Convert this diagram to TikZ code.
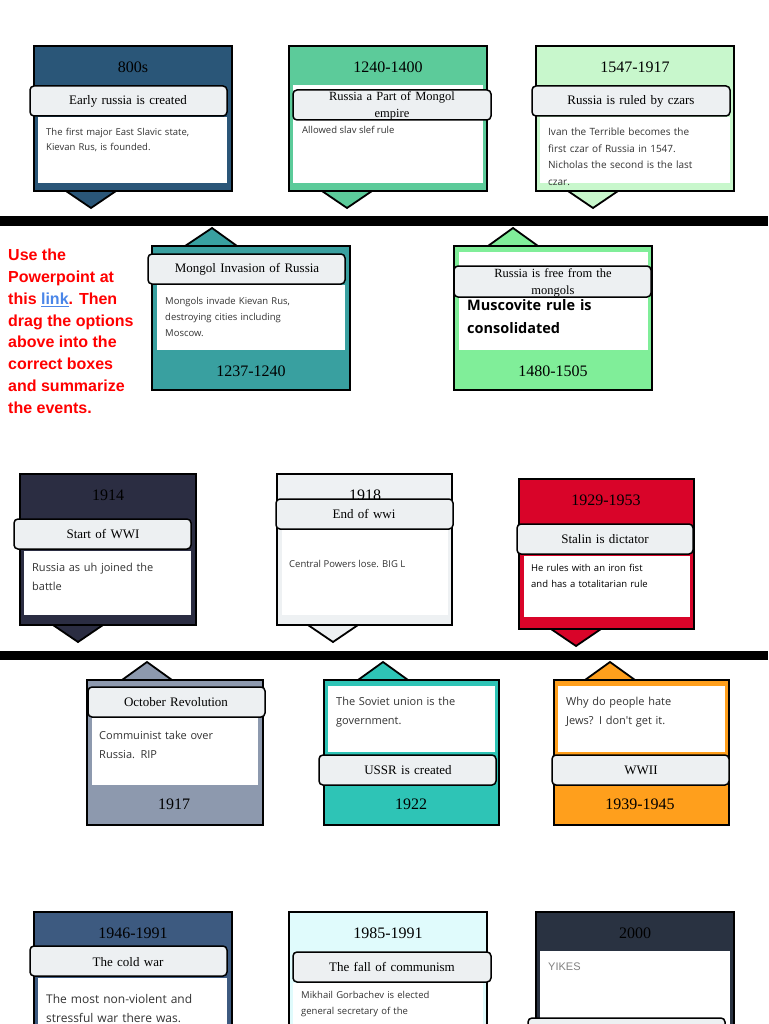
\documentclass[tikz,border=0pt]{standalone}
\usepackage{fontspec}
\setmainfont{Liberation Serif}
\newfontfamily\bodyf{Open Sans}
\newfontfamily\redf{Liberation Sans}
\definecolor{cA}{HTML}{2A5678}
\definecolor{cB}{HTML}{5CCB9A}
\definecolor{cC}{HTML}{C8F7CC}
\definecolor{cD}{HTML}{39A0A0}
\definecolor{cE}{HTML}{80EE99}
\definecolor{cF}{HTML}{2B2D42}
\definecolor{cG}{HTML}{EEF1F3}
\definecolor{cH}{HTML}{D90429}
\definecolor{cI}{HTML}{8D99AE}
\definecolor{cJ}{HTML}{2EC4B6}
\definecolor{cK}{HTML}{FF9F1C}
\definecolor{cL}{HTML}{3D5A80}
\definecolor{cM}{HTML}{E0FBFC}
\definecolor{cN}{HTML}{293241}
\definecolor{pillgray}{HTML}{EDF0F2}
\definecolor{txtgray}{HTML}{333333}
\tikzset{
 card/.style={draw=black, line width=1.8pt},
 pill/.style={draw=black, line width=1.5pt, fill=pillgray, rounded corners=4pt},
 bodyarea/.style={fill=white},
 date/.style={font=\fontsize{16}{18}\selectfont, text=black},
 plabel/.style={font=\fontsize{13}{14}\selectfont, text=black, align=center, text width=190pt},
 btext/.style={font=\bodyf\fontsize{10}{16}\selectfont, text=txtgray, anchor=north west, align=left, inner sep=0pt},
 ptr/.style={draw=black, line width=1.8pt, line join=miter},
 bar/.style={fill=black}
}
\begin{document}
\begin{tikzpicture}[x=1pt,y=-1pt]
\useasboundingbox (0,0) rectangle (768,1024);
\fill[white] (0,0) rectangle (768,1024);
% ---- top row
\filldraw[ptr,fill=cA] (66,191)--(91,208)--(116,191);
\filldraw[ptr,fill=cB] (322,191)--(347,208)--(372,191);
\filldraw[ptr,fill=cC] (568,191)--(593,208)--(618,191);
\filldraw[card,fill=cA] (34,46) rectangle (232,191);
\fill[bodyarea] (38,117) rectangle (227,183);
\filldraw[card,fill=cB] (289,46) rectangle (487,191);
\fill[bodyarea] (293,85) rectangle (483,183);
\filldraw[card,fill=cC] (536,46) rectangle (734,191);
\fill[bodyarea] (540,117) rectangle (730,183);
\node[date] (d1) at (133,67) {800s};
\node[date] (d2) at (388,67) {1240-1400};
\node[date] (d3) at (635,67) {1547-1917};
\draw[pill] (30,86) rectangle (227,116); \node[plabel] (p1) at (128,101) {Early russia is created};
\draw[pill] (293,90) rectangle (491,120); \node[plabel,font=\fontsize{12.5}{17}\selectfont] (p2) at (392,106) {Russia a Part of Mongol\\empire};
\draw[pill] (532,86) rectangle (730,116); \node[plabel] (p3) at (631,101) {Russia is ruled by czars};
\node[btext,text width=185pt,font=\bodyf\fontsize{9.5}{15}\selectfont] (b1) at (46,128) {The first major East Slavic state,\\Kievan Rus, is founded.};
\node[btext,font=\bodyf\fontsize{9.5}{15}\selectfont] (b2) at (302,126) {Allowed slav slef rule};
\node[btext,text width=185pt,font=\bodyf\fontsize{10}{16.5}\selectfont] (b3) at (548,128) {Ivan the Terrible becomes the\\first czar of Russia in 1547.\\Nicholas the second is the last\\czar.};
\fill[bar] (0,216) rectangle (768,226);
% ---- second row
\filldraw[ptr,fill=cD] (185,246)--(212,228)--(237,246);
\filldraw[ptr,fill=cE] (488,246)--(513,228)--(538,246);
\filldraw[card,fill=cD] (152,246) rectangle (350,390);
\fill[bodyarea] (157,285) rectangle (345,350);
\filldraw[card,fill=cE] (454,246) rectangle (652,390);
\fill[bodyarea] (459,252) rectangle (648,350);
\draw[pill] (148,254) rectangle (345,284); \node[plabel] (p4) at (247,269) {Mongol Invasion of Russia};
\draw[pill] (454,266) rectangle (651,297); \node[plabel,font=\fontsize{12.5}{17}\selectfont] (p5) at (553,283) {Russia is free from the\\mongols};
\node[btext,text width=185pt,font=\bodyf\fontsize{9.5}{16}\selectfont] (b4) at (165,297) {Mongols invade Kievan Rus,\\destroying cities including\\Moscow.};
\node[btext,text width=185pt,font=\bodyf\bfseries\fontsize{14.5}{23}\selectfont,text=black] (b5) at (467,299) {Muscovite rule is\\consolidated};
\node[date] (d4) at (251,371) {1237-1240};
\node[date] (d5) at (553,371) {1480-1505};
\node[font=\redf\bfseries\fontsize{16}{21.8}\selectfont, text=red, anchor=north west, align=left, inner sep=0pt] (instr) at (8,249)
 {Use the\\Powerpoint at\\this \textcolor[HTML]{4A86E8}{\underline{link}}. Then\\drag the options\\above into the\\correct boxes\\and summarize\\the events.};
% ---- third row
\filldraw[ptr,fill=cF] (53,625)--(78,642)--(103,625);
\filldraw[ptr,fill=cG] (308,625)--(333,642)--(358,625);
\filldraw[ptr,fill=cH] (551,629)--(576,646)--(601,629);
\filldraw[card,fill=cF] (20,474) rectangle (196,625);
\fill[bodyarea] (24,551) rectangle (191,615);
\filldraw[card,fill=cG] (277,474) rectangle (452,625);
\fill[bodyarea] (282,505) rectangle (448,615);
\filldraw[card,fill=cH] (519,479) rectangle (694,629);
\fill[bodyarea] (524,556) rectangle (690,617);
\node[date] (d6) at (108,495) {1914};
\node[date] (d7) at (365,495) {1918};
\node[date] (d8) at (606,500) {1929-1953};
\draw[pill] (14,519) rectangle (191,549); \node[plabel] (p6) at (103,534) {Start of WWI};
\draw[pill] (276,499) rectangle (453,529); \node[plabel] (p7) at (364,514) {End of wwi};
\draw[pill] (517,524) rectangle (693,554); \node[plabel] (p8) at (605,539) {Stalin is dictator};
\node[btext,text width=165pt,font=\bodyf\fontsize{11}{19}\selectfont] (b6) at (32,563) {Russia as uh joined the\\battle};
\node[btext,font=\bodyf\fontsize{9.5}{15}\selectfont] (b7) at (289,560) {Central Powers lose. BIG L};
\node[btext,text width=165pt,font=\bodyf\fontsize{9.5}{16}\selectfont,text=black] (b8) at (531,564) {He rules with an iron fist\\and has a totalitarian rule};
\fill[bar] (0,651) rectangle (768,660);
% ---- fourth row
\filldraw[ptr,fill=cI] (122,680)--(147,662)--(172,680);
\filldraw[ptr,fill=cJ] (358,680)--(383,662)--(408,680);
\filldraw[ptr,fill=cK] (585,680)--(610,662)--(635,680);
\filldraw[card,fill=cI] (87,680) rectangle (263,825);
\fill[bodyarea] (92,718) rectangle (258,785);
\filldraw[card,fill=cJ] (324,680) rectangle (499,825);
\fill[bodyarea] (328,686) rectangle (495,752);
\filldraw[card,fill=cK] (554,680) rectangle (729,825);
\fill[bodyarea] (558,686) rectangle (725,752);
\draw[pill] (88,687) rectangle (265,717); \node[plabel] (p9) at (176,702) {October Revolution};
\draw[pill] (319,755) rectangle (496,785); \node[plabel] (p10) at (408,770) {USSR is created};
\draw[pill] (552,755) rectangle (729,785); \node[plabel] (p11) at (641,770) {WWII};
\node[btext,text width=165pt,font=\bodyf\fontsize{11}{19}\selectfont] (b9) at (99,731) {Commuinist take over\\Russia. RIP};
\node[btext,text width=165pt,font=\bodyf\fontsize{11}{19}\selectfont] (b10) at (336,697) {The Soviet union is the\\government.};
\node[btext,text width=165pt,font=\bodyf\fontsize{11}{19}\selectfont] (b11) at (566,697) {Why do people hate\\Jews? I don't get it.};
\node[date] (d9) at (174,804) {1917};
\node[date] (d10) at (411,804) {1922};
\node[date] (d11) at (640,804) {1939-1945};
% ---- fifth row
\filldraw[card,fill=cL] (34,912) rectangle (232,1030);
\fill[bodyarea] (38,978) rectangle (227,1030);
\filldraw[card,fill=cM] (289,912) rectangle (487,1030);
\fill[bodyarea] (293,983) rectangle (483,1030);
\filldraw[card,fill=cN] (536,912) rectangle (734,1030);
\fill[bodyarea] (540,951) rectangle (730,1030);
\node[date] (d12) at (133,933) {1946-1991};
\node[date] (d13) at (388,933) {1985-1991};
\node[date] (d14) at (635,933) {2000};
\draw[pill] (30,946) rectangle (227,976); \node[plabel] (p12) at (128,962) {The cold war};
\draw[pill] (293,952) rectangle (491,982); \node[plabel] (p13) at (392,967) {The fall of communism};
\draw[pill] (528,1018) rectangle (725,1040);
\node[btext,text width=190pt,font=\bodyf\fontsize{12}{19}\selectfont] (b12) at (46,994) {The most non-violent and\\stressful war there was.};
\node[btext,text width=190pt,font=\bodyf\fontsize{9.5}{16}\selectfont] (b13) at (301,991) {Mikhail Gorbachev is elected\\general secretary of the};
\node[btext,font=\redf\fontsize{11}{12}\selectfont,text=gray] (b14) at (548,963) {YIKES};
\end{tikzpicture}
\end{document}
